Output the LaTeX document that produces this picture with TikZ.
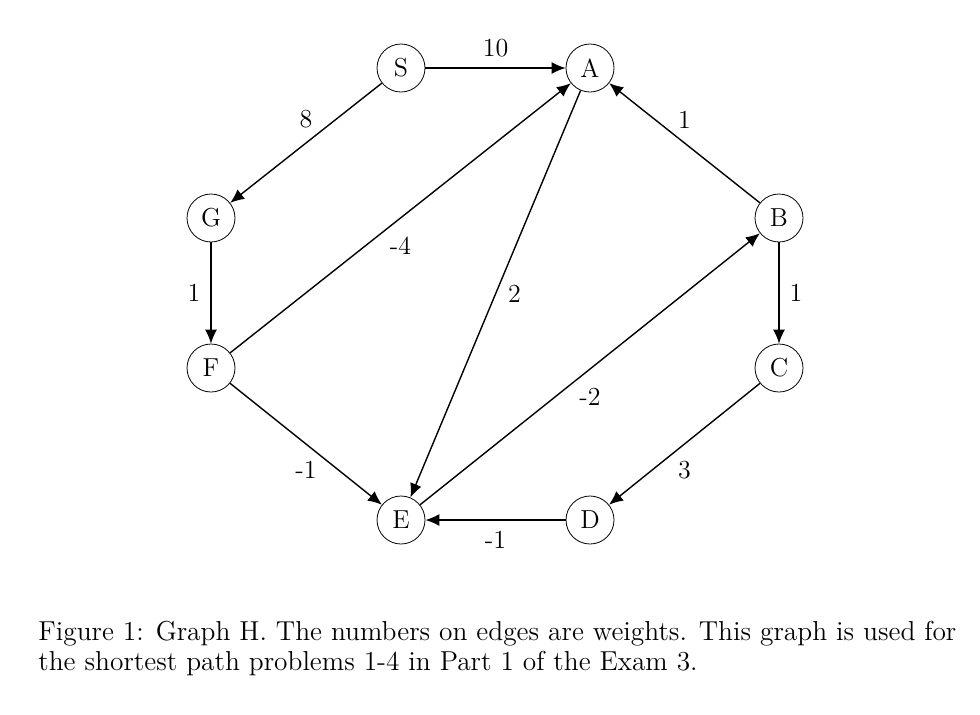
\documentclass[tikz,border=0pt]{standalone}
\usetikzlibrary{arrows.meta}
\begin{document}
\begin{tikzpicture}[x=0.5pt,y=-0.5pt,
  vert/.style={circle,draw,minimum size=24pt,inner sep=0pt,font=\fontsize{13}{15}\selectfont},
  edge/.style={draw,-{Latex[length=7pt,width=6pt]},line width=0.7pt},
  lab/.style={font=\fontsize{13}{15}\selectfont,inner sep=3pt}]
\useasboundingbox (0,0) rectangle (980,714);
\node[vert] (S) at (401,68) {S};
\node[vert] (A) at (590,68) {A};
\node[vert] (G) at (211,218) {G};
\node[vert] (B) at (779,218) {B};
\node[vert] (F) at (211,368) {F};
\node[vert] (C) at (779,368) {C};
\node[vert] (E) at (401,520) {E};
\node[vert] (D) at (590,520) {D};
\draw[edge] (S) -- node[lab,above=2pt] {10} (A);
\draw[edge] (S) -- node[lab,above=4pt] {8} (G);
\draw[edge] (G) -- node[lab,left=2pt] {1} (F);
\draw[edge] (F) -- node[lab,below=6pt] {-4} (A);
\draw[edge] (A) -- node[lab,right=3pt] {2} (E);
\draw[edge] (B) -- node[lab,above=4pt] {1} (A);
\draw[edge] (B) -- node[lab,right=2pt] {1} (C);
\draw[edge] (F) -- node[lab,below=5pt] {-1} (E);
\draw[edge] (E) -- node[lab,below=6pt] {-2} (B);
\draw[edge] (C) -- node[lab,below=5pt] {3} (D);
\draw[edge] (D) -- node[lab,below=2pt] {-1} (E);
\node[anchor=north west,align=left,font=\fontsize{13.7}{15}\selectfont,inner sep=0pt] (cap) at (38,621)
 {Figure 1: Graph H. The numbers on edges are weights. This graph is used for\\
  the shortest path problems 1-4 in Part 1 of the Exam 3.};
\end{tikzpicture}
\end{document}
